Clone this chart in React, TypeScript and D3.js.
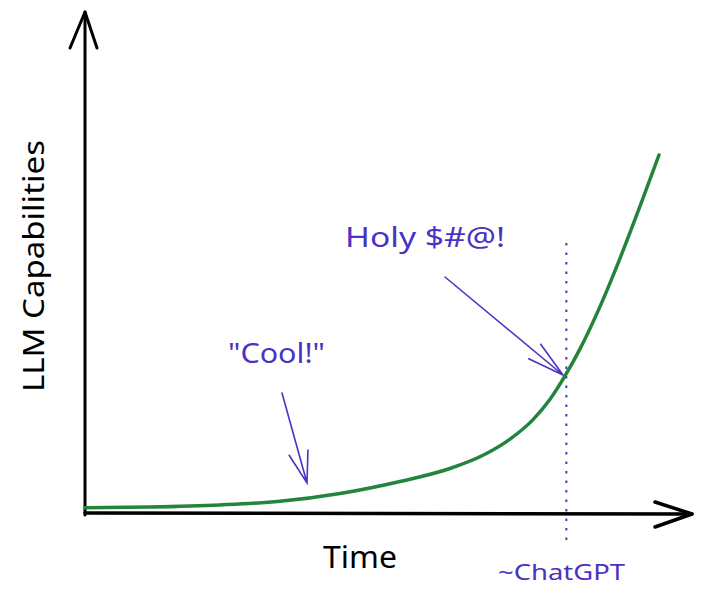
import React from "react";
import * as d3 from "d3";

// Curve data (arbitrary units: time 0-100, capability 0-100)
const timeValues = [0, 10.71, 22.24, 32.13, 42.01, 51.89, 60.13, 65.57, 70.02, 73.81, 76.61, 79.08, 81.55, 84.51, 88.14, 91.43, 94.56];
const capabilityValues = [1.04, 1.2, 1.62, 2.34, 3.89, 6.29, 8.88, 11.52, 14.75, 18.64, 22.71, 27.37, 32.75, 40.3, 50.84, 61.22, 71.46];

const axisLabels = { x: "Time", y: "LLM Capabilities" };
const markerTime = 79.3;
const markerLabel = "~ChatGPT";
const annotationTexts = ["\"Cool!\"", "Holy $#@!"];

const W = 702;
const H = 600;
const PURPLE = "#4a33c4";
const GREEN = "#23843a";
const FONT = "'Noto Sans', 'DejaVu Sans', sans-serif";

export default function App() {
  const x = d3.scaleLinear().domain([0, 100]).range([85, 692]);
  const y = d3.scaleLinear().domain([0, 100]).range([513, 12]);

  const pts: [number, number][] = timeValues.map((t, i) => [t, capabilityValues[i]]);
  const line = d3
    .line<[number, number]>()
    .x((d) => x(d[0]))
    .y((d) => y(d[1]))
    .curve(d3.curveMonotoneX);

  const x0 = x(0), y0 = y(0), xEnd = x(100), yEnd = y(100);

  const arrow = (x1: number, y1: number, x2: number, y2: number, len: number, spread: number) => {
    const ang = Math.atan2(y2 - y1, x2 - x1);
    const a1 = ang + Math.PI - spread;
    const a2 = ang + Math.PI + spread;
    return `M${x1},${y1}L${x2},${y2}M${x2 + len * Math.cos(a1)},${y2 + len * Math.sin(a1)}L${x2},${y2}L${x2 + len * Math.cos(a2)},${y2 + len * Math.sin(a2)}`;
  };

  const mx = x(markerTime);

  return (
    <svg width={W} height={H} style={{ position: "absolute", left: 0, top: 0, background: "#fff" }}>
      <rect width={W} height={H} fill="#fff" />
      {/* Y axis */}
      <path d={`M${x0},${y0 + 2}L${x0},${yEnd}`} stroke="#000" strokeWidth={3} fill="none" strokeLinecap="round" />
      <path d={`M${x0 - 15},${yEnd + 36}L${x0},${yEnd}L${x0 + 12},${yEnd + 36}`} stroke="#000" strokeWidth={3} fill="none" strokeLinecap="round" strokeLinejoin="round" />
      {/* X axis */}
      <path d={`M${x0},${y0}L${xEnd},${y0 + 1}`} stroke="#000" strokeWidth={3.5} fill="none" strokeLinecap="round" />
      <path d={`M${xEnd - 37},${y0 - 11}L${xEnd},${y0 + 1}L${xEnd - 37},${y0 + 14}`} stroke="#000" strokeWidth={3.5} fill="none" strokeLinecap="round" strokeLinejoin="round" />

      {/* marker dotted line */}
      <line x1={mx} x2={mx} y1={243} y2={545} stroke={PURPLE} strokeWidth={2} strokeDasharray="2.5 7" />

      {/* curve */}
      <path d={line(pts) || ""} stroke={GREEN} strokeWidth={3.5} fill="none" strokeLinecap="round" />

      {/* annotations */}
      <path d={arrow(282, 393, 307, 483, 33, 0.3)} stroke={PURPLE} strokeWidth={1.6} fill="none" strokeLinecap="round" />
      <path d={arrow(445, 277, 563, 375, 38, 0.25)} stroke={PURPLE} strokeWidth={1.6} fill="none" strokeLinecap="round" />

      <text x={228} y={363} fontFamily={FONT} fontSize={28} fill={PURPLE} textLength={97} lengthAdjust="spacingAndGlyphs">
        {annotationTexts[0]}
      </text>
      <text x={345} y={247} fontFamily={FONT} fontSize={28} fill={PURPLE} textLength={160} lengthAdjust="spacingAndGlyphs">
        {annotationTexts[1]}
      </text>

      {/* axis labels */}
      <text x={323} y={568} fontFamily={FONT} fontSize={30} fill="#000" textLength={74} lengthAdjust="spacingAndGlyphs">
        {axisLabels.x}
      </text>
      <text
        transform={`translate(44,266) rotate(-90)`}
        textAnchor="middle"
        fontFamily={FONT}
        fontSize={29}
        fill="#000"
        textLength={252}
        lengthAdjust="spacingAndGlyphs"
      >
        {axisLabels.y}
      </text>
      <text x={498} y={580} fontFamily={FONT} fontSize={21} fill={PURPLE} textLength={127} lengthAdjust="spacingAndGlyphs">
        {markerLabel}
      </text>
    </svg>
  );
}
